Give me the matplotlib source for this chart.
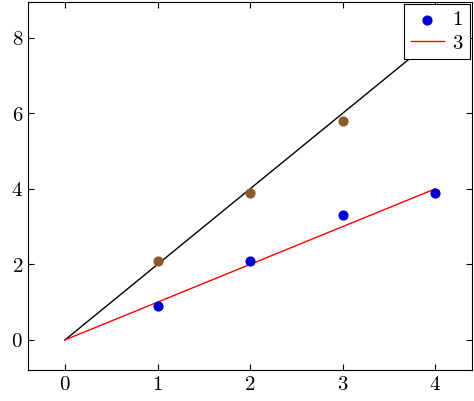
import matplotlib
matplotlib.use("Agg")
import matplotlib.pyplot as plt

plt.rcParams['mathtext.fontset'] = 'cm'
plt.rcParams['font.family'] = 'serif'
plt.rcParams['font.serif'] = ['DejaVu Serif']

blue_x = [1, 2, 3, 4]
blue_y = [0.9, 2.1, 3.3, 3.9]
brown_x = [1, 2, 3, 4]
brown_y = [2.1, 3.9, 5.8, 7.9]
black_x = [0, 4]
black_y = [0, 8]
red_x = [0, 4]
red_y = [0, 4]

fig = plt.figure(figsize=(4.74, 4.01), dpi=100)
ax = fig.add_axes([0.059, 0.077, 0.937, 0.918])
ax.plot(black_x, black_y, color='black', lw=1)
ax.plot(red_x, red_y, color='red', lw=1, label='3')
ax.scatter(blue_x, blue_y, color='#0000cc', s=40, zorder=3, label='1')
ax.scatter(brown_x, brown_y, color='#8b5a2b', s=40, zorder=3)
ax.set_xlim(-0.4, 4.4)
ax.set_ylim(-0.8, 8.95)
ax.set_xticks([0, 1, 2, 3, 4])
ax.set_yticks([0, 2, 4, 6, 8])
ax.set_xticklabels([f'${v}$' for v in [0, 1, 2, 3, 4]], fontsize=15)
ax.set_yticklabels([f'${v}$' for v in [0, 2, 4, 6, 8]], fontsize=15)
ax.tick_params(direction='in', length=4, top=True, right=True)
h, l = ax.get_legend_handles_labels()
leg = ax.legend([h[1], h[0]], ['$1$', '$3$'], loc='upper right', fontsize=15,
                fancybox=False, edgecolor='black', framealpha=1,
                borderaxespad=0.1, handlelength=1.6, handletextpad=0.4,
                labelspacing=0.2, borderpad=0.3)
leg.get_frame().set_linewidth(0.8)
fig.savefig('out.png', dpi=100)
